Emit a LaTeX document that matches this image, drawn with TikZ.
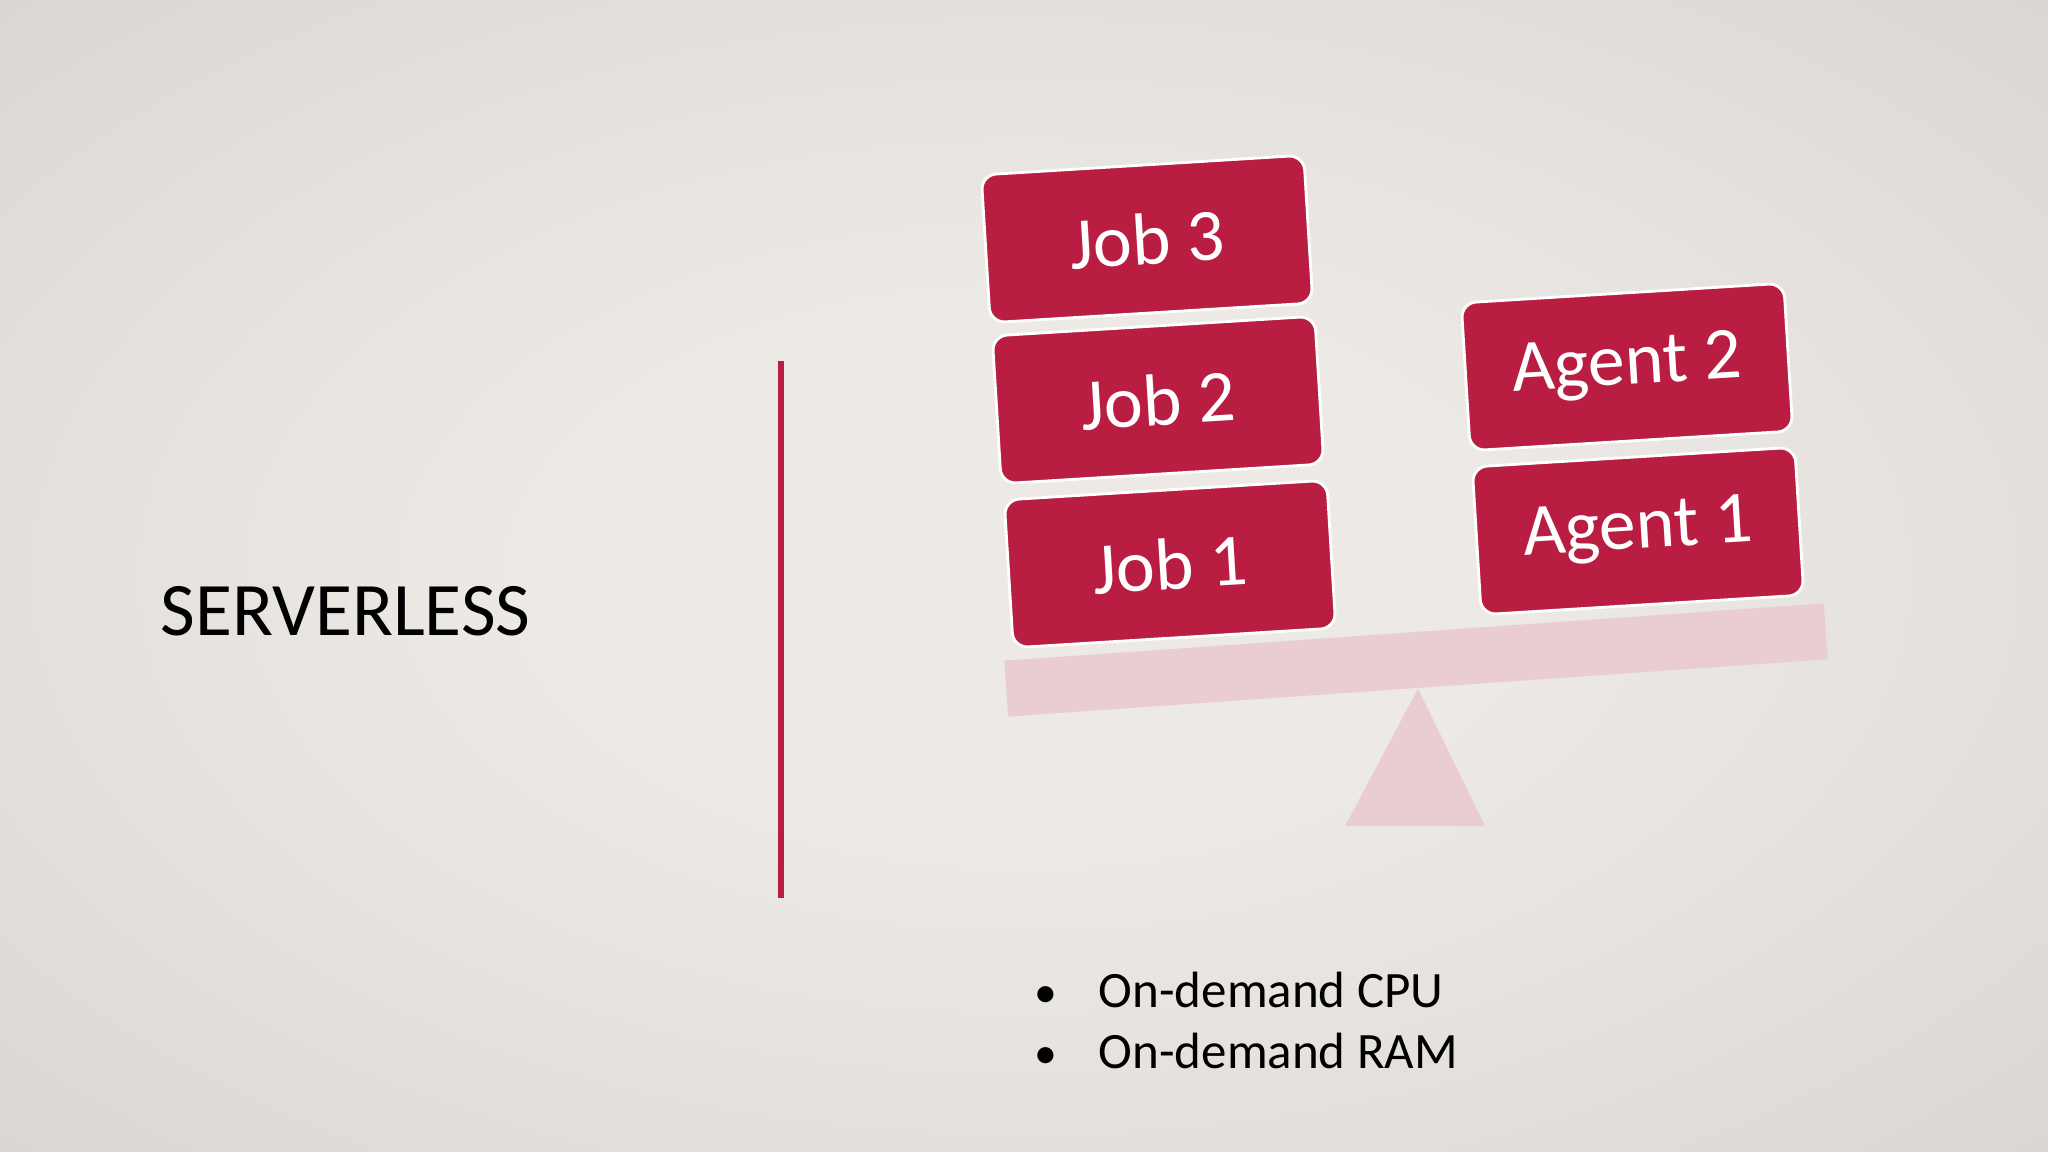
\documentclass[tikz,border=0pt]{standalone}
\usepackage{fontspec}
\setmainfont{Carlito}
\usetikzlibrary{positioning}
\definecolor{bgin}{RGB}{237,234,230}
\definecolor{bgout}{RGB}{202,198,196}
\definecolor{crimson}{RGB}{185,29,66}
\definecolor{beampink}{RGB}{233,205,211}
\pgfdeclareradialshading{slidebg}{\pgfpoint{0bp}{0bp}}{color(0bp)=(bgin); color(12bp)=(bgin); color(56bp)=(bgout); color(72bp)=(bgout)}
\tikzset{
  jobbox/.style={fill=crimson, draw=white, line width=0.8pt, rounded corners=0.15cm,
    minimum width=3.23cm, minimum height=1.48cm, text=white, font=\fontsize{21}{25}\selectfont, rotate=3.5},
  beambar/.style={fill=beampink, minimum width=8.21cm, minimum height=0.56cm, inner sep=0pt, rotate=4},
  bullettext/.style={anchor=base west, font=\fontsize{14.5}{17}\selectfont, inner sep=0pt}
}
\begin{document}
\begin{tikzpicture}[x=0.01cm,y=-0.01cm]
\useasboundingbox (0,0) rectangle (2048,1152);
\shade[shading=slidebg] (0,0) rectangle (2048,1152);
% title and divider
\node[anchor=base west, inner sep=0pt, font=\fontsize{21.5}{26}\selectfont] (title) at (160,635) {SERVERLESS};
\draw[crimson, line width=0.06cm] (781,361) -- (781,898);
% seesaw
\node[beambar] (beam) at (1416,660) {};
\coordinate (baseL) at (1345,826); \coordinate (baseR) at (1485,826);
\fill[beampink] (beam.south) -- (baseL) -- (baseR) -- cycle;
% jobs on the left
\node[jobbox] (job1) at (1170,564) {Job 1};
\node[jobbox] (job2) at (1158,400) {Job 2};
\node[jobbox] (job3) at (1147,239) {Job 3};
% agents on the right
\node[jobbox] (agent1) at (1638,531) {Agent 1};
\node[jobbox] (agent2) at (1627,367) {Agent 2};
% bullets
\node[bullettext] (cpu) at (1098,1007) {On-demand CPU};
\node[bullettext] (ram) at (1098,1068) {On-demand RAM};
\node[bullettext, font=\fontsize{13}{15}\selectfont, left=0.4cm of cpu.base west, anchor=base east] (dotcpu) {\textbullet};
\node[bullettext, font=\fontsize{13}{15}\selectfont, left=0.4cm of ram.base west, anchor=base east] (dotram) {\textbullet};
\end{tikzpicture}
\end{document}
